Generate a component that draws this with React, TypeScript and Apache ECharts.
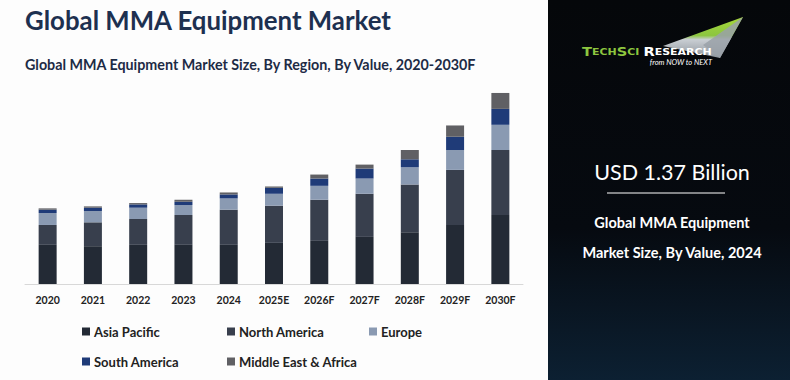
import React, { useEffect, useRef } from "react";
import * as echarts from "echarts";

const categories = ["2020", "2021", "2022", "2023", "2024", "2025E", "2026F", "2027F", "2028F", "2029F", "2030F"];
const asiaPacific = [0.59, 0.57, 0.59, 0.59, 0.59, 0.62, 0.65, 0.71, 0.78, 0.89, 1.04];
const northAmerica = [0.30, 0.36, 0.39, 0.45, 0.53, 0.56, 0.62, 0.65, 0.72, 0.83, 0.98];
const europe = [0.18, 0.17, 0.17, 0.15, 0.17, 0.18, 0.21, 0.23, 0.26, 0.30, 0.38];
const southAmerica = [0.05, 0.05, 0.05, 0.05, 0.06, 0.09, 0.11, 0.15, 0.12, 0.20, 0.24];
const middleEastAfrica = [0.02, 0.02, 0.02, 0.03, 0.03, 0.02, 0.06, 0.06, 0.14, 0.17, 0.24];

const seriesNames = ["Asia Pacific", "North America", "Europe", "South America", "Middle East & Africa"];
const seriesColors = ["#232a35", "#383f4d", "#8a9ab2", "#1f3b78", "#606064"];
const seriesData = [asiaPacific, northAmerica, europe, southAmerica, middleEastAfrica];

const FONT = "Lato";

export default function App() {
  const ref = useRef<HTMLDivElement>(null);
  useEffect(() => {
    if (!ref.current) return;
    const chart = echarts.init(ref.current, null, { renderer: "svg" });
    const legendPos = [
      { left: 82, top: 325 },
      { left: 227, top: 325 },
      { left: 369, top: 325 },
      { left: 82, top: 355 },
      { left: 227, top: 355 },
    ];
    const option: any = {
      animation: false,
      backgroundColor: "#fdfdfd",
      title: [
        {
          text: "Global MMA Equipment Market",
          left: 20,
          top: 2,
          textStyle: { fontFamily: FONT, fontWeight: "bold", fontSize: 25.8, color: "#1d3050" },
        },
        {
          text: "Global MMA Equipment Market Size, By Region, By Value, 2020-2030F",
          left: 20,
          top: 52,
          textStyle: { fontFamily: FONT, fontWeight: "bold", fontSize: 14.3, color: "#1d2b45" },
        },
      ],
      legend: seriesNames.map((n, i) => ({
        data: [n],
        left: legendPos[i].left,
        top: legendPos[i].top,
        padding: 0,
        icon: "rect",
        itemWidth: 8,
        itemHeight: 8,
        itemGap: 5,
        selectedMode: false,
        textStyle: { fontFamily: FONT, fontWeight: "bold", fontSize: 13, color: "#222222", padding: [0, 0, 0, -1] },
      })),
      grid: { left: 25, right: 790 - 523, top: 85, bottom: 96 },
      xAxis: {
        type: "category",
        data: categories,
        axisLine: { lineStyle: { color: "#d8d8d8", width: 1 } },
        axisTick: { show: false },
        axisLabel: { fontFamily: FONT, fontWeight: "bold", fontSize: 10.5, color: "#222222", margin: 10 },
      },
      yAxis: { type: "value", min: 0, max: 3, show: false, splitLine: { show: false } },
      series: seriesNames.map((n, i) => ({
        name: n,
        type: "bar",
        stack: "total",
        barWidth: 18,
        data: seriesData[i],
        itemStyle: { color: seriesColors[i] },
      })),
      graphic: [
        {
          type: "rect",
          shape: { x: 548, y: 0, width: 242, height: 380 },
          style: {
            fill: new echarts.graphic.LinearGradient(0, 0, 0, 1, [
              { offset: 0, color: "#05070a" },
              { offset: 0.6, color: "#060a10" },
              { offset: 1, color: "#0c2032" },
            ]),
          },
          z: 0,
        },
        {
          type: "polygon",
          shape: { points: [[663, 46], [743, 17], [720, 58]] },
          style: {
            fill: new echarts.graphic.LinearGradient(0, 0, 0, 1, [
              { offset: 0, color: "#a6d63a" },
              { offset: 0.45, color: "#8cc63f" },
              { offset: 0.55, color: "#c9ced3" },
              { offset: 1, color: "#8e959c" },
            ]),
          },
        },
        {
          type: "polygon",
          shape: { points: [[703, 45], [743, 17], [720, 58]] },
          style: { fill: "#9aa1a8", opacity: 0.85 },
        },
        {
          type: "text",
          x: 582,
          y: 52,
          scaleX: 1.22,
          style: {
            text: "{g1|T}{g2|ECH}{g1|S}{g2|CI} {w1|R}{w2|ESEARCH}",
            verticalAlign: "middle",
            rich: {
              g1: { fill: "#8dc63f", fontFamily: "DejaVu Sans", fontWeight: "bold", fontSize: 12 },
              g2: { fill: "#8dc63f", fontFamily: "DejaVu Sans", fontWeight: "bold", fontSize: 9 },
              w1: { fill: "#ffffff", fontFamily: "DejaVu Sans", fontWeight: "bold", fontSize: 12 },
              w2: { fill: "#ffffff", fontFamily: "DejaVu Sans", fontWeight: "bold", fontSize: 9 },
            },
          },
        },
        {
          type: "text",
          x: 712,
          y: 62,
          style: {
            text: "from NOW to NEXT",
            align: "right",
            verticalAlign: "middle",
            fill: "#ffffff",
            fontFamily: FONT,
            fontStyle: "italic",
            fontSize: 7.5,
          },
        },
        {
          type: "text",
          x: 672,
          y: 172,
          style: {
            text: "USD 1.37 Billion",
            align: "center",
            verticalAlign: "middle",
            fill: "#ffffff",
            fontFamily: FONT,
            fontSize: 21.5,
          },
        },
        {
          type: "line",
          shape: { x1: 607, y1: 193, x2: 725, y2: 193 },
          style: { stroke: "#ffffff", lineWidth: 1 },
        },
        {
          type: "text",
          x: 672,
          y: 222,
          style: {
            text: "Global MMA Equipment",
            align: "center",
            verticalAlign: "middle",
            fill: "#ffffff",
            fontFamily: FONT,
            fontWeight: "bold",
            fontSize: 14.5,
          },
        },
        {
          type: "text",
          x: 672,
          y: 252,
          style: {
            text: "Market Size, By Value, 2024",
            align: "center",
            verticalAlign: "middle",
            fill: "#ffffff",
            fontFamily: FONT,
            fontWeight: "bold",
            fontSize: 14.5,
          },
        },
      ],
    };
    chart.setOption(option);
    return () => chart.dispose();
  }, []);
  return (
    <div
      ref={ref}
      style={{ position: "fixed", left: 0, top: 0, width: 790, height: 380 }}
    />
  );
}
